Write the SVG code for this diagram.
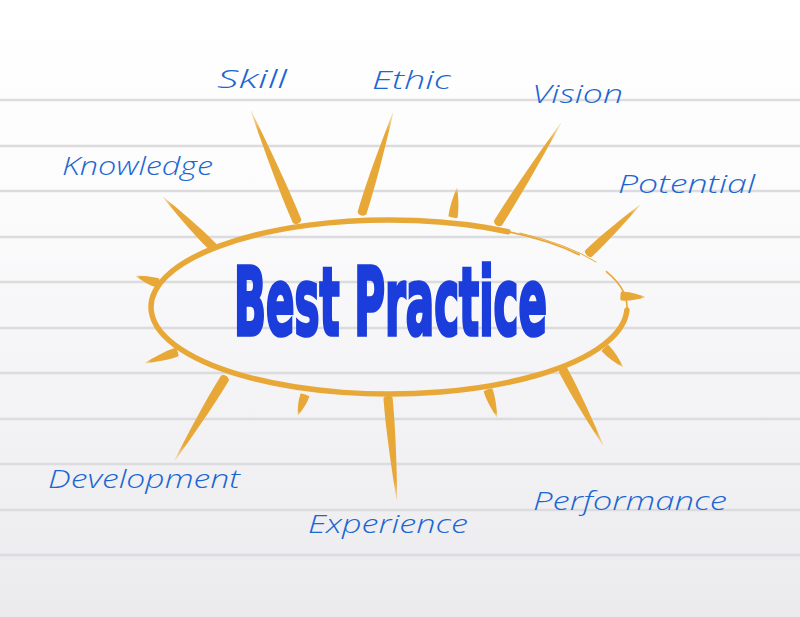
<svg xmlns="http://www.w3.org/2000/svg" xmlns:xlink="http://www.w3.org/1999/xlink" width="800" height="617" viewBox="0 0 800 617">
<defs>
<linearGradient id="bg" x1="0" y1="0" x2="0" y2="1">
<stop offset="0" stop-color="#ffffff"/>
<stop offset="0.3" stop-color="#fcfcfd"/>
<stop offset="1" stop-color="#ebebee"/>
</linearGradient>
<linearGradient id="rayFade" x1="0" y1="0" x2="1" y2="0">
<stop offset="0" stop-color="#e8a838"/>
<stop offset="0.82" stop-color="#e8a838"/>
<stop offset="1" stop-color="#e8a838" stop-opacity="0.25"/>
</linearGradient>
<path id="ray" d="M0,-4.6 C35,-4.9 70,-2.4 100,-0.4 L100,0.4 C70,2.4 35,4.9 0,4.6 C-3.2,3 -3.2,-3 0,-4.6 Z" fill="url(#rayFade)"/>
<style>
.rule{stroke:#dcdcdf;stroke-width:2.5}
.lbl{font-family:"Open Sans","Liberation Sans",sans-serif;font-style:italic;font-weight:300;font-size:26px;fill:#1b66d2}
.title{font-family:"Liberation Sans Narrow","DejaVu Sans Condensed","Liberation Sans",sans-serif;font-weight:bold;font-size:72px;fill:#1a3ddb;stroke:#1a3ddb;stroke-width:2.8}
.ring{fill:none;stroke:#e8a838;stroke-linecap:round}
</style>
</defs>
<rect width="800" height="617" fill="url(#bg)"/>
<g id="ruled-lines">
<line class="rule" x1="0" y1="100" x2="800" y2="100"/>
<line class="rule" x1="0" y1="146" x2="800" y2="146"/>
<line class="rule" x1="0" y1="191" x2="800" y2="191"/>
<line class="rule" x1="0" y1="237" x2="800" y2="237"/>
<line class="rule" x1="0" y1="282" x2="800" y2="282"/>
<line class="rule" x1="0" y1="328" x2="800" y2="328"/>
<line class="rule" x1="0" y1="373" x2="800" y2="373"/>
<line class="rule" x1="0" y1="419" x2="800" y2="419"/>
<line class="rule" x1="0" y1="464" x2="800" y2="464"/>
<line class="rule" x1="0" y1="510" x2="800" y2="510"/>
<line class="rule" x1="0" y1="555" x2="800" y2="555"/>
</g>
<g id="connectors">
<use xlink:href="#ray" transform="translate(213,247) rotate(-135) scale(0.707,1)"/>
<use xlink:href="#ray" transform="translate(297,221) rotate(-112.7) scale(1.19,1)"/>
<use xlink:href="#ray" transform="translate(362,213) rotate(-72.8) scale(1.047,1)"/>
<use xlink:href="#ray" transform="translate(453,217) rotate(-82.1) scale(0.293,1)"/>
<use xlink:href="#ray" transform="translate(498,223) rotate(-57.8) scale(1.18,1)"/>
<use xlink:href="#ray" transform="translate(588,254) rotate(-43.3) scale(0.714,1)"/>
<use xlink:href="#ray" transform="translate(621,296) rotate(2.4) scale(0.24,1)"/>
<use xlink:href="#ray" transform="translate(158,283) rotate(-162.4) scale(0.231,1)"/>
<use xlink:href="#ray" transform="translate(177,352) rotate(161) scale(0.338,1)"/>
<use xlink:href="#ray" transform="translate(225,378) rotate(121.4) scale(0.96,1)"/>
<use xlink:href="#ray" transform="translate(305,395) rotate(109.3) scale(0.212,1)"/>
<use xlink:href="#ray" transform="translate(388,398) rotate(85) scale(1.024,1)"/>
<use xlink:href="#ray" transform="translate(488,390) rotate(71.6) scale(0.285,1)"/>
<use xlink:href="#ray" transform="translate(563,370) rotate(61.9) scale(0.85,1)"/>
<use xlink:href="#ray" transform="translate(605,348) rotate(46.5) scale(0.262,1)"/>
</g>
<g id="best-practice">
<path class="ring" stroke-width="5.5" d="M626.9,310 A238,87 0 1 1 508,231.7"/>
<path class="ring" stroke-width="1.8" d="M493.3,228.8 A238,87 0 0 1 579.1,254.6"/>
<path class="ring" stroke-width="1" d="M520,233 A236,85 0 0 1 596,262"/>
<path class="ring" stroke-width="1.6" d="M606.4,271.6 A238,87 0 0 1 626.7,311.6"/>
<text class="title" transform="translate(234,335) scale(1,1.3)" x="0" y="0" textLength="313" lengthAdjust="spacingAndGlyphs">Best Practice</text>
</g>
<g id="skill"><text class="lbl" x="217" y="88" textLength="70" lengthAdjust="spacingAndGlyphs">Skill</text></g>
<g id="ethic"><text class="lbl" x="372" y="89" textLength="79" lengthAdjust="spacingAndGlyphs">Ethic</text></g>
<g id="vision"><text class="lbl" x="532" y="103" textLength="91" lengthAdjust="spacingAndGlyphs">Vision</text></g>
<g id="knowledge"><text class="lbl" x="62" y="175" textLength="151" lengthAdjust="spacingAndGlyphs">Knowledge</text></g>
<g id="potential"><text class="lbl" x="618" y="193" textLength="137" lengthAdjust="spacingAndGlyphs">Potential</text></g>
<g id="development"><text class="lbl" x="48" y="488" textLength="192" lengthAdjust="spacingAndGlyphs">Development</text></g>
<g id="experience"><text class="lbl" x="308" y="533" textLength="160" lengthAdjust="spacingAndGlyphs">Experience</text></g>
<g id="performance"><text class="lbl" x="533" y="510" textLength="194" lengthAdjust="spacingAndGlyphs">Performance</text></g>
</svg>
